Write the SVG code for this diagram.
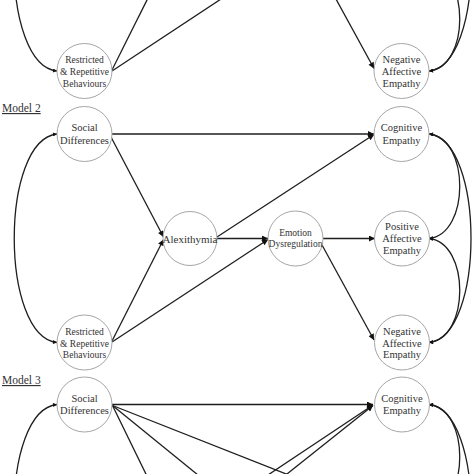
<svg xmlns="http://www.w3.org/2000/svg" width="474" height="474" viewBox="0 0 474 474">
<style>
.node circle{fill:#fff;stroke:#a6a6a6;stroke-width:1}
.node text{font-family:"Liberation Serif","Times New Roman",serif;fill:#333;text-anchor:middle}
.t{font-size:10.5px}
.s{font-size:9.5px}
.c{fill:none;stroke:#1e1e1e;stroke-width:1.3}
.label{font-family:"Liberation Serif","Times New Roman",serif;font-size:11.5px;fill:#333;text-decoration:underline}
</style>
<defs>
<marker id="ah" viewBox="0 0 10 10" refX="10" refY="5" markerWidth="7" markerHeight="6" markerUnits="userSpaceOnUse" orient="auto-start-reverse">
<path d="M0,0 L10,5 L0,10 z" fill="#111"/>
</marker>
<marker id="sh" viewBox="0 0 10 10" refX="10" refY="5" markerWidth="5" markerHeight="4" markerUnits="userSpaceOnUse" orient="auto-start-reverse">
<path d="M0,0 L10,5 L0,10 z" fill="#111"/>
</marker>
</defs>
<g id="connectors">
<!-- Model 1 tail -->
<path class="c" d="M57,-137.5 C0,-131.5 0,65 57,71" marker-end="url(#sh)"/>
<line class="c" x1="112" y1="70" x2="163.5" y2="-33"/>
<line class="c" x1="112" y1="71" x2="268" y2="-32"/>
<line class="c" x1="322" y1="-26.5" x2="374" y2="68.5" marker-end="url(#ah)"/>
<path class="c" d="M429,-33 C470,-29 470,67 429,71" marker-end="url(#sh)"/>
<path class="c" d="M429,-137.5 C485,-131.5 485,65 429,71" marker-end="url(#sh)"/>
<!-- Model 2 -->
<path class="c" d="M57,134 C0,140 0,336.5 57,342.5" marker-start="url(#sh)" marker-end="url(#sh)"/>
<line class="c" x1="112" y1="134" x2="374" y2="134" marker-end="url(#ah)"/>
<line class="c" x1="111" y1="137" x2="163.5" y2="237" marker-end="url(#ah)"/>
<line class="c" x1="112" y1="341" x2="163.5" y2="239.5" marker-end="url(#ah)"/>
<line class="c" x1="112" y1="342" x2="268" y2="239.5" marker-end="url(#ah)"/>
<line class="c" x1="217" y1="237" x2="374" y2="134.5" marker-end="url(#ah)"/>
<line class="c" x1="217" y1="238.5" x2="268" y2="238.5" marker-end="url(#ah)"/>
<line class="c" x1="323" y1="238.5" x2="375" y2="238.5" marker-end="url(#ah)"/>
<line class="c" x1="322" y1="245" x2="374" y2="340" marker-end="url(#ah)"/>
<path class="c" d="M429,134 C470,138 470,234.5 429,238.5" marker-start="url(#sh)" marker-end="url(#sh)"/>
<path class="c" d="M429,238.5 C470,242.5 470,338.5 429,342.5" marker-start="url(#sh)" marker-end="url(#sh)"/>
<path class="c" d="M429,134 C485,140 485,336.5 429,342.5" marker-start="url(#sh)" marker-end="url(#sh)"/>
<!-- Model 3 -->
<path class="c" d="M57,404.5 C0,410.5 0,607 57,613" marker-start="url(#sh)"/>
<line class="c" x1="112" y1="404.5" x2="373" y2="404.5" marker-end="url(#ah)"/>
<line class="c" x1="112.5" y1="405.5" x2="163" y2="509"/>
<line class="c" x1="112.5" y1="405.5" x2="241" y2="510"/>
<line class="c" x1="112.5" y1="405.5" x2="375" y2="509"/>
<line class="c" x1="217" y1="509" x2="373" y2="405" marker-end="url(#ah)"/>
<line class="c" x1="243" y1="509" x2="373" y2="405.5" marker-end="url(#ah)"/>
<path class="c" d="M429,404.5 C470,408.5 470,505 429,509" marker-start="url(#sh)"/>
<path class="c" d="M429,404.5 C485,410.5 485,607 429,613" marker-start="url(#sh)"/>
</g>
<g id="m1-rrb" class="node"><circle cx="84.5" cy="71" r="27.5"/><text class="s" x="84.5" y="63">Restricted</text><text class="s" x="84.5" y="75">&amp; Repetitive</text><text class="s" x="84.5" y="86.5">Behaviours</text></g>
<g id="m1-nae" class="node"><circle cx="401.5" cy="71" r="27.5"/><text class="t" x="401.5" y="63">Negative</text><text class="t" x="401.5" y="75">Affective</text><text class="t" x="401.5" y="86.5">Empathy</text></g>
<text class="label" x="2" y="112">Model 2</text>
<g id="m2-sd" class="node"><circle cx="84.5" cy="134" r="27.5"/><text class="t" x="84.5" y="131">Social</text><text class="t" x="84.5" y="143.5">Differences</text></g>
<g id="m2-cog" class="node"><circle cx="401.5" cy="134" r="27.5"/><text class="t" x="401.5" y="131">Cognitive</text><text class="t" x="401.5" y="143.5">Empathy</text></g>
<g id="m2-alex" class="node"><circle cx="190" cy="238.5" r="27"/><text x="190" y="242.5" style="font-size:11px">Alexithymia</text></g>
<g id="m2-ed" class="node"><circle cx="295.5" cy="238.5" r="27.5"/><text class="s" x="295.5" y="236">Emotion</text><text class="s" x="295.5" y="247">Dysregulation</text></g>
<g id="m2-pae" class="node"><circle cx="402" cy="238.5" r="27.5"/><text class="t" x="402" y="230">Positive</text><text class="t" x="402" y="242">Affective</text><text class="t" x="402" y="253.5">Empathy</text></g>
<g id="m2-rrb" class="node"><circle cx="84.5" cy="342.5" r="27.5"/><text class="s" x="84.5" y="334.5">Restricted</text><text class="s" x="84.5" y="346.5">&amp; Repetitive</text><text class="s" x="84.5" y="358">Behaviours</text></g>
<g id="m2-nae" class="node"><circle cx="402" cy="342.5" r="27.5"/><text class="t" x="402" y="334.5">Negative</text><text class="t" x="402" y="346.5">Affective</text><text class="t" x="402" y="358">Empathy</text></g>
<text class="label" x="2" y="384">Model 3</text>
<g id="m3-sd" class="node"><circle cx="84.5" cy="404.5" r="27.5"/><text class="t" x="84.5" y="401.5">Social</text><text class="t" x="84.5" y="414">Differences</text></g>
<g id="m3-cog" class="node"><circle cx="402" cy="404.5" r="27.5"/><text class="t" x="402" y="401.5">Cognitive</text><text class="t" x="402" y="414">Empathy</text></g>
</svg>
